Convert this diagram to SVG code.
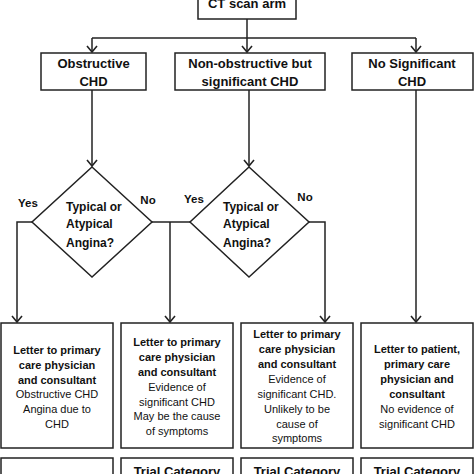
<svg xmlns="http://www.w3.org/2000/svg" width="474" height="474" viewBox="0 0 474 474">
<style>
.box{fill:#fff;stroke:#222;stroke-width:1.5}
.t{font-family:"Liberation Sans",Arial,sans-serif;fill:#111;text-anchor:middle}
.h{font-size:13px;font-weight:bold}
.b{font-size:11px;font-weight:bold}
.r{font-size:11px}
.d{font-size:12px;font-weight:bold;text-anchor:start}
.l{font-size:11.5px;font-weight:bold}
.c{fill:none;stroke:#222;stroke-width:1.5}
</style>
<defs>
<marker id="ah" viewBox="-8 -7 10 14" refX="0" refY="0" markerWidth="10" markerHeight="14" markerUnits="userSpaceOnUse" orient="auto" overflow="visible">
<path d="M-6,-5 L0,0 L-6,5" fill="none" stroke="#222" stroke-width="1.6"/>
</marker>
</defs>
<rect width="474" height="474" fill="#fff"/>
<g id="connectors" class="c">
<path d="M247,19 V38"/>
<path d="M92,38 H416"/>
<path d="M92,38 V52" marker-end="url(#ah)"/>
<path d="M247,38 V52" marker-end="url(#ah)"/>
<path d="M416,38 V52" marker-end="url(#ah)"/>
<path d="M92,90 V166" marker-end="url(#ah)"/>
<path d="M249,90 V166" marker-end="url(#ah)"/>
<path d="M416,90 V322" marker-end="url(#ah)"/>
<path d="M32,222 H17 V322" marker-end="url(#ah)"/>
<path d="M152,222 H190"/>
<path d="M170,222 V322" marker-end="url(#ah)"/>
<path d="M309,222 H325 V322" marker-end="url(#ah)"/>
</g>
<g id="labels">
<text class="t l" x="28" y="207">Yes</text>
<text class="t l" x="148" y="204">No</text>
<text class="t l" x="194" y="203">Yes</text>
<text class="t l" x="305" y="201">No</text>
</g>
<g id="ct">
<rect class="box" x="198" y="-10" width="98" height="29"/>
<text class="t h" x="247" y="8">CT scan arm</text>
</g>
<g id="obstructive">
<rect class="box" x="41" y="53" width="105" height="37"/>
<text class="t h" x="93.5" y="68">Obstructive</text>
<text class="t h" x="93.5" y="86">CHD</text>
</g>
<g id="nonobstructive">
<rect class="box" x="175" y="53" width="150" height="37"/>
<text class="t h" x="250" y="68">Non-obstructive but</text>
<text class="t h" x="250" y="86">significant CHD</text>
</g>
<g id="nosignificant">
<rect class="box" x="352" y="53" width="121" height="37"/>
<text class="t h" x="412" y="68">No Significant</text>
<text class="t h" x="412" y="86">CHD</text>
</g>
<g id="angina1">
<polygon class="box" points="92,167 152,222 92,277 32,222"/>
<text class="t d" x="66" y="211">Typical or</text>
<text class="t d" x="66" y="228">Atypical</text>
<text class="t d" x="66" y="247">Angina?</text>
</g>
<g id="angina2">
<polygon class="box" points="249,167 309,222 249,277 190,222"/>
<text class="t d" x="223" y="211">Typical or</text>
<text class="t d" x="223" y="228">Atypical</text>
<text class="t d" x="223" y="247">Angina?</text>
</g>
<g id="letter1">
<rect class="box" x="1" y="323" width="112" height="125"/>
<text class="t b" x="57" y="354">Letter to primary</text>
<text class="t b" x="57" y="369">care physician</text>
<text class="t b" x="57" y="384">and consultant</text>
<text class="t r" x="57" y="398">Obstructive CHD</text>
<text class="t r" x="57" y="413">Angina due to</text>
<text class="t r" x="57" y="428">CHD</text>
</g>
<g id="letter2">
<rect class="box" x="121" y="323" width="112" height="125"/>
<text class="t b" x="177" y="346">Letter to primary</text>
<text class="t b" x="177" y="361">care physician</text>
<text class="t b" x="177" y="376">and consultant</text>
<text class="t r" x="177" y="391">Evidence of</text>
<text class="t r" x="177" y="406">significant CHD</text>
<text class="t r" x="177" y="420">May be the cause</text>
<text class="t r" x="177" y="435">of symptoms</text>
</g>
<g id="letter3">
<rect class="box" x="241" y="323" width="112" height="125"/>
<text class="t b" x="297" y="338">Letter to primary</text>
<text class="t b" x="297" y="353">care physician</text>
<text class="t b" x="297" y="368">and consultant</text>
<text class="t r" x="297" y="383">Evidence of</text>
<text class="t r" x="297" y="398">significant CHD.</text>
<text class="t r" x="297" y="413">Unlikely to be</text>
<text class="t r" x="297" y="428">cause of</text>
<text class="t r" x="297" y="442">symptoms</text>
</g>
<g id="letter4">
<rect class="box" x="361" y="323" width="112" height="125"/>
<text class="t b" x="417" y="353">Letter to patient,</text>
<text class="t b" x="417" y="368">primary care</text>
<text class="t b" x="417" y="383">physician and</text>
<text class="t b" x="417" y="398">consultant</text>
<text class="t r" x="417" y="413">No evidence of</text>
<text class="t r" x="417" y="428">significant CHD</text>
</g>
<g id="trial1">
<rect class="box" x="1" y="458" width="112" height="30"/>
</g>
<g id="trial2">
<rect class="box" x="121" y="458" width="112" height="30"/>
<text class="t h" x="177" y="476">Trial Category</text>
</g>
<g id="trial3">
<rect class="box" x="241" y="458" width="112" height="30"/>
<text class="t h" x="297" y="476">Trial Category</text>
</g>
<g id="trial4">
<rect class="box" x="361" y="458" width="112" height="30"/>
<text class="t h" x="417" y="476">Trial Category</text>
</g>
</svg>
